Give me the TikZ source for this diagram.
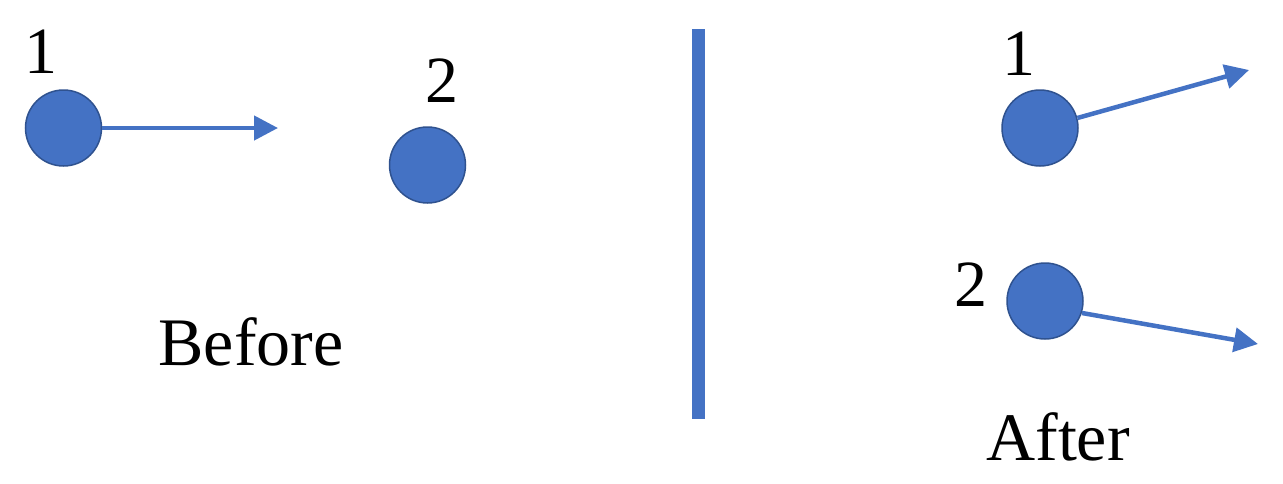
\documentclass[tikz,border=0pt]{standalone}
\usepackage{fontspec}
\setmainfont{Liberation Serif}
\usetikzlibrary{arrows.meta}
\definecolor{ballblue}{HTML}{4472C4}
\definecolor{balledge}{HTML}{2F528F}
\tikzset{
  ball/.style={circle,fill=ballblue,draw=balledge,line width=1.5pt,minimum size=76pt,inner sep=0pt},
  vel/.style={draw=ballblue,line width=4.5pt,-{Triangle[length=24pt,width=24pt]}},
  numlabel/.style={anchor=base,inner sep=0pt,font=\fontsize{66}{70}\selectfont},
  caption/.style={anchor=base,inner sep=0pt,font=\fontsize{68}{72}\selectfont},
  wall/.style={draw=ballblue,line width=13pt}
}
\begin{document}
\begin{tikzpicture}[x=1pt,y=-1pt]
\useasboundingbox (0,0) rectangle (1283,483);
% Before
\node[ball] (b1) at (63.5,128) {};
\node[ball] (b2) at (427.5,165) {};
\coordinate (b1tip) at (278,128);
\draw[vel] (b1.east) -- (b1tip);
\node[numlabel] (lb1) at (41,73) {1};
\node[numlabel] (lb2) at (442,102) {2};
\node[caption] (before) at (251,365) {Before};
% wall
\coordinate (wtop) at (698.5,29);
\coordinate (wbot) at (698.5,419);
\draw[wall] (wtop) -- (wbot);
% After
\node[ball] (a1) at (1040,128) {};
\node[ball] (a2) at (1045,301) {};
\coordinate (a1tip) at (1249,70);
\coordinate (a2tip) at (1258,344);
\draw[vel] (a1.15) -- (a1tip);
\draw[vel] (a2.-18) -- (a2tip);
\node[numlabel] (la1) at (1019,75) {1};
\node[numlabel] (la2) at (971,306) {2};
\node[caption] (after) at (1058,460) {After};
\end{tikzpicture}
\end{document}
